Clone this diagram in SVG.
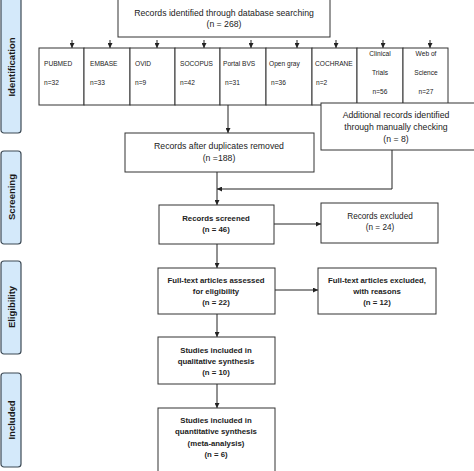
<svg xmlns="http://www.w3.org/2000/svg" width="474" height="471" viewBox="0 0 474 471">
<style>
.box{fill:#fff;stroke:#333;stroke-width:1}
.side{fill:#d4e9fa;stroke:#3d4a55;stroke-width:1.2}
.t{font-family:"Liberation Sans",Arial,sans-serif;font-size:8.7px;fill:#222;text-anchor:middle}
.b{font-weight:bold;font-size:7.8px}
.s{font-family:"Liberation Sans",Arial,sans-serif;font-size:6.6px;fill:#222}
.sc{text-anchor:middle}
.lab{font-family:"Liberation Sans",Arial,sans-serif;font-size:9.5px;font-weight:bold;fill:#1a1a1a;text-anchor:middle}
.c{fill:none;stroke:#222;stroke-width:1}
</style>
<defs>
<marker id="ah" viewBox="0 0 6 6" refX="6" refY="3" markerWidth="5" markerHeight="5" orient="auto" markerUnits="userSpaceOnUse">
<path d="M0,0 L6,3 L0,6 z" fill="#222"/>
</marker>
</defs>
<g id="phase-identification"><rect class="side" x="1" y="-6" width="20" height="139" rx="3"/><text class="lab" transform="translate(14.5,67) rotate(-90)">Identification</text></g>
<g id="phase-screening"><rect class="side" x="1" y="151" width="20" height="93" rx="3"/><text class="lab" transform="translate(14.5,197) rotate(-90)">Screening</text></g>
<g id="phase-eligibility"><rect class="side" x="1" y="261" width="20" height="93" rx="3"/><text class="lab" transform="translate(14.5,307) rotate(-90)">Eligibility</text></g>
<g id="phase-included"><rect class="side" x="1" y="373" width="20" height="94" rx="3"/><text class="lab" transform="translate(14.5,420) rotate(-90)">Included</text></g>

<g id="connectors">
<line class="c" x1="72" y1="40" x2="72" y2="48" marker-end="url(#ah)"/>
<line class="c" x1="110" y1="40" x2="110" y2="48" marker-end="url(#ah)"/>
<line class="c" x1="157" y1="40" x2="157" y2="48" marker-end="url(#ah)"/>
<line class="c" x1="204" y1="40" x2="204" y2="48" marker-end="url(#ah)"/>
<line class="c" x1="251" y1="40" x2="251" y2="48" marker-end="url(#ah)"/>
<line class="c" x1="297" y1="40" x2="297" y2="48" marker-end="url(#ah)"/>
<line class="c" x1="336" y1="40" x2="336" y2="48" marker-end="url(#ah)"/>
<line class="c" x1="383" y1="40" x2="383" y2="48" marker-end="url(#ah)"/>
<line class="c" x1="430" y1="40" x2="430" y2="48" marker-end="url(#ah)"/>
<line class="c" x1="228" y1="105" x2="228" y2="133" marker-end="url(#ah)"/>
<polyline class="c" points="392,150 392,189 217,189" marker-end="url(#ah)"/>
<line class="c" x1="217" y1="172" x2="217" y2="205" marker-end="url(#ah)"/>
<line class="c" x1="274" y1="224" x2="321" y2="224" marker-end="url(#ah)"/>
<line class="c" x1="217" y1="244" x2="217" y2="268" marker-end="url(#ah)"/>
<line class="c" x1="275" y1="290" x2="318" y2="290" marker-end="url(#ah)"/>
<line class="c" x1="217" y1="314" x2="217" y2="337" marker-end="url(#ah)"/>
<line class="c" x1="217" y1="384" x2="217" y2="408" marker-end="url(#ah)"/>
</g>

<g id="n-db"><rect class="box" x="118" y="-2" width="212" height="39"/><text class="t" x="224" y="16">Records identified through database searching</text><text class="t" x="224" y="27">(n = 268)</text></g>

<g id="n-pubmed"><rect class="box" x="39" y="48" width="45" height="57"/><text class="s" x="44" y="66">PUBMED</text><text class="s" x="44" y="85">n=32</text></g>
<g id="n-embase"><rect class="box" x="84" y="48" width="46" height="57"/><text class="s" x="90" y="66">EMBASE</text><text class="s" x="90" y="85">n=33</text></g>
<g id="n-ovid"><rect class="box" x="130" y="48" width="45" height="57"/><text class="s" x="135" y="66">OVID</text><text class="s" x="135" y="85">n=9</text></g>
<g id="n-socopus"><rect class="box" x="175" y="48" width="45" height="57"/><text class="s" x="180" y="66">SOCOPUS</text><text class="s" x="180" y="85">n=42</text></g>
<g id="n-bvs"><rect class="box" x="220" y="48" width="46" height="57"/><text class="s" x="223" y="66">Portal BVS</text><text class="s" x="225" y="85">n=31</text></g>
<g id="n-opengray"><rect class="box" x="266" y="48" width="46" height="57"/><text class="s" x="269" y="66">Open gray</text><text class="s" x="271" y="85">n=36</text></g>
<g id="n-cochrane"><rect class="box" x="312" y="48" width="45" height="57"/><text class="s" x="315" y="66">COCHRANE</text><text class="s" x="316" y="85">n=2</text></g>
<g id="n-clinical"><rect class="box" x="357" y="48" width="46" height="57"/><text class="s sc" x="380" y="56">Clinical</text><text class="s sc" x="380" y="75">Trials</text><text class="s sc" x="380" y="94">n=56</text></g>
<g id="n-wos"><rect class="box" x="403" y="48" width="45" height="57"/><text class="s sc" x="426" y="56">Web of</text><text class="s sc" x="426" y="75">Science</text><text class="s sc" x="426" y="94">n=27</text></g>

<g id="n-additional"><rect class="box" x="321" y="103" width="156" height="47"/><text class="t" x="396" y="118">Additional records identified</text><text class="t" x="396" y="130">through manually checking</text><text class="t" x="396" y="142">(n = 8)</text></g>
<g id="n-dedup"><rect class="box" x="125" y="133" width="189" height="39"/><text class="t" x="219" y="149">Records after duplicates removed</text><text class="t" x="219" y="161">(n =188)</text></g>
<g id="n-screened"><rect class="box" x="159" y="205" width="115" height="39"/><text class="t b" x="216" y="221">Records screened</text><text class="t b" x="216" y="232">(n = 46)</text></g>
<g id="n-excluded"><rect class="box" x="321" y="203" width="117" height="40"/><text class="t" x="380" y="219" style="font-size:8.2px">Records excluded</text><text class="t" x="380" y="230" style="font-size:8.2px">(n = 24)</text></g>
<g id="n-fulltext"><rect class="box" x="158" y="268" width="117" height="46"/><text class="t b" x="216" y="283">Full-text articles assessed</text><text class="t b" x="216" y="294">for eligibility</text><text class="t b" x="216" y="305">(n = 22)</text></g>
<g id="n-ftexcl"><rect class="box" x="318" y="268" width="118" height="46"/><text class="t b" x="377" y="283">Full-text articles excluded,</text><text class="t b" x="377" y="294">with reasons</text><text class="t b" x="377" y="305">(n = 12)</text></g>
<g id="n-qual"><rect class="box" x="158" y="337" width="117" height="47"/><text class="t b" x="216" y="353">Studies included in</text><text class="t b" x="216" y="364">qualitative synthesis</text><text class="t b" x="216" y="375">(n = 10)</text></g>
<g id="n-quant"><rect class="box" x="158" y="408" width="117" height="68"/><text class="t b" x="216" y="423">Studies included in</text><text class="t b" x="216" y="434">quantitative synthesis</text><text class="t b" x="216" y="446">(meta-analysis)</text><text class="t b" x="216" y="457">(n = 6)</text></g>
</svg>
